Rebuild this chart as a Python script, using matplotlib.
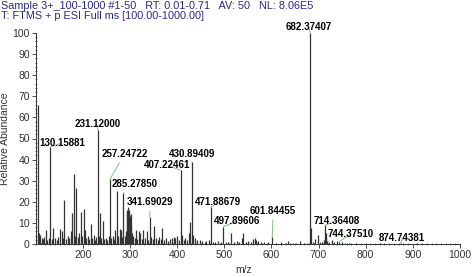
import matplotlib
matplotlib.use("Agg")
import matplotlib.pyplot as plt
from matplotlib.ticker import MultipleLocator

plt.rcParams['font.family'] = ['Liberation Sans', 'DejaVu Sans']

# peak list (m/z, relative abundance)
mz = [103.5, 104.5, 106.8, 109.2, 112.0, 115.3, 118.0, 120.6, 124.1, 127.0,
      130.16, 133.0, 136.8, 140.2, 144.0, 147.1, 151.0, 154.6, 157.3, 160.2,
      163.5, 167.0, 170.1, 173.7, 177.0, 180.2, 183.0, 185.7, 189.1, 192.0,
      195.0, 198.0, 201.0, 203.5, 207.0, 210.1, 213.0, 216.0, 219.2, 222.1,
      225.0, 228.0, 231.12, 233.1, 236.0, 239.0, 242.4, 245.1, 248.2, 251.0,
      254.0, 257.25, 260.1, 263.2, 265.0, 268.0, 271.5, 274.1, 278.5, 281.0,
      283.0, 285.28, 288.0, 290.1, 292.7, 294.0, 295.2, 296.3, 297.4, 298.5,
      299.6, 300.8, 302.0, 303.2, 307.0, 310.0, 312.5, 315.2, 319.0, 321.0,
      325.0, 328.0, 331.2, 335.0, 338.0, 341.69, 345.0, 348.2, 351.0, 355.0,
      358.3, 362.0, 365.0, 368.0, 372.0, 376.1, 380.0, 385.0, 389.0, 392.0,
      396.0, 399.0, 403.0, 407.22, 411.0, 414.2, 417.0, 421.0, 424.0, 427.0,
      430.89, 434.0, 438.0, 442.0, 448.5, 453.0, 458.0, 462.0, 467.0, 471.89,
      476.0, 481.0, 487.0, 492.0, 497.9, 503.0, 508.0, 514.5, 520.0, 526.0,
      531.0, 537.0, 540.6, 546.0, 551.0, 556.0, 560.5, 565.5, 567.0, 572.0,
      578.0, 585.0, 592.0, 601.84, 610.0, 620.0, 628.0, 636.0, 645.0, 652.0,
      661.0, 670.0, 676.0, 682.37, 683.38, 688.0, 693.0, 698.0, 703.0, 708.0,
      712.0, 714.36, 715.4, 716.4, 718.0, 722.0, 728.0, 733.0, 739.0, 744.38,
      750.0, 756.0, 765.0, 780.0, 800.0, 830.0, 874.74, 910.0]
abund = [66.0, 4.0, 5.0, 4.5, 3.0, 2.5, 3.5, 6.6, 2.0, 3.0,
         46.0, 2.5, 7.4, 3.0, 2.0, 3.5, 7.0, 6.0, 3.0, 21.0,
         2.5, 4.0, 3.0, 6.0, 14.5, 33.0, 4.0, 26.7, 3.5, 5.0,
         15.0, 4.0, 16.4, 6.6, 3.0, 4.0, 2.5, 9.5, 3.0, 4.5,
         2.0, 3.5, 54.0, 4.0, 14.5, 3.0, 11.0, 2.5, 3.0, 2.0,
         4.0, 30.8, 3.0, 4.0, 2.5, 6.6, 25.0, 4.0, 7.0, 6.6,
         3.5, 24.0, 4.0, 6.0, 16.0, 14.5, 15.5, 17.4, 16.0, 15.0,
         13.5, 14.0, 9.0, 5.0, 4.0, 3.0, 6.6, 2.5, 6.0, 5.0,
         2.5, 6.6, 3.0, 6.0, 2.0, 13.0, 3.5, 2.5, 8.5, 3.0,
         2.0, 3.5, 2.5, 7.4, 2.0, 3.0, 1.5, 2.5, 2.7, 3.5,
         2.8, 3.8, 2.0, 35.0, 4.3, 2.0, 2.7, 2.0, 5.0, 10.6,
         39.0, 4.3, 3.0, 2.0, 2.0, 1.5, 1.2, 1.5, 2.0, 17.5,
         1.2, 1.0, 1.5, 1.0, 8.2, 1.2, 1.0, 5.0, 1.0, 1.5,
         1.0, 2.7, 5.4, 1.0, 1.6, 1.0, 2.2, 2.7, 1.9, 1.3,
         1.0, 0.8, 0.8, 3.5, 0.6, 0.8, 0.6, 1.6, 0.6, 0.5,
         1.3, 0.5, 0.6, 100.0, 7.4, 1.0, 2.2, 4.3, 1.2, 1.0,
         2.0, 9.0, 5.0, 3.0, 1.5, 1.0, 1.9, 1.0, 1.6, 1.2,
         0.8, 0.5, 0.5, 0.4, 0.4, 0.4, 0.5, 0.3]

# labelled peaks and where their text sits (m/z, abundance of text centre)
label_mz = [682.37407, 231.12000, 130.15881, 257.24722, 430.89409, 407.22461,
            285.27850, 341.69029, 471.88679, 497.89606, 601.84455, 714.36408,
            744.37510, 874.74381]
label_pos = [(680.2, 102.8), (231.1, 57.0), (155.3, 47.9), (288.1, 42.7),
             (430.5, 42.7), (377.4, 37.4), (310.4, 28.4), (342.3, 19.9),
             (486.8, 19.9), (527.2, 10.9), (603.7, 15.8), (738.7, 10.9),
             (768.4, 4.7), (877.9, 3.0)]

header1 = "Sample 3+_100-1000 #1-50   RT: 0.01-0.71   AV: 50   NL: 8.06E5"
header2 = "T: FTMS + p ESI Full ms [100.00-1000.00]"

fig = plt.figure(figsize=(4.74, 2.77), dpi=100)
ax = fig.add_axes([0.076, 0.119, 0.894, 0.762])

ax.vlines(mz, 0, abund, color='#333333', linewidth=0.9)

for lm, (tx, ty) in zip(label_mz, label_pos):
    # nearest peak in the list gives the height the connector points at
    i = min(range(len(mz)), key=lambda k: abs(mz[k] - lm))
    ax.annotate(f"{lm:.5f}", xy=(mz[i], abund[i]), xytext=(tx, ty),
                ha='center', va='center', fontsize=7, fontweight='bold',
                annotation_clip=False,
                arrowprops=dict(arrowstyle='-', color='#7fbf7f', lw=0.7,
                                shrinkA=1, shrinkB=0))

ax.set_xlim(100, 1000)
ax.set_ylim(0, 100)
ax.xaxis.set_major_locator(MultipleLocator(100))
ax.xaxis.set_minor_locator(MultipleLocator(10))
ax.yaxis.set_major_locator(MultipleLocator(10))
ax.yaxis.set_minor_locator(MultipleLocator(2))
ax.set_xticks([200, 300, 400, 500, 600, 700, 800, 900, 1000])
ax.tick_params(axis='both', which='major', length=3, width=0.6, labelsize=7.5,
               colors='#333333', pad=1.5)
ax.tick_params(axis='both', which='minor', length=1.8, width=0.5,
               direction='inout', colors='#333333')
for s in ['top', 'right']:
    ax.spines[s].set_visible(False)
for s in ['left', 'bottom']:
    ax.spines[s].set_linewidth(0.7)
    ax.spines[s].set_color('#333333')

ax.set_ylabel("Relative Abundance", fontsize=7.5, color='#333333')
ax.yaxis.set_label_coords(-0.062, 0.5)
ax.set_xlabel("m/z", fontsize=7.5, color='#333333')
ax.xaxis.set_label_coords(0.49, -0.1)

fig.text(0.002, 0.978, header1, fontsize=7.8, color='#2a2a8a', va='center')
fig.text(0.002, 0.942, header2, fontsize=7.8, color='#2a2a8a', va='center')

fig.savefig("out.png", dpi=100)
